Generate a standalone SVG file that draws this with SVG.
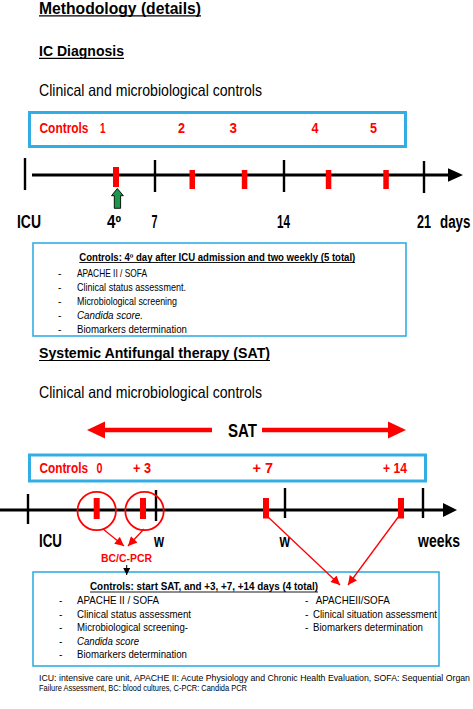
<svg xmlns="http://www.w3.org/2000/svg" width="473" height="709" viewBox="0 0 473 709">
<defs>
<style>
text{font-family:"Liberation Sans",Arial,sans-serif;fill:#000}
.b{font-weight:bold}
.red{fill:#ff0000}
.box{fill:none;stroke:#33aee4}
.ax{stroke:#000;stroke-width:3.2;fill:none}
.tk{stroke:#000;stroke-width:2.4}
.rt{fill:#ff0000}
.ul{stroke:#000;stroke-width:1.2}
.it{font-size:10.2px}
.rl{stroke:#ff0000;stroke-width:1.3;fill:none}
</style>
<marker id="ra" viewBox="0 0 10 10" refX="10" refY="5" markerWidth="10" markerHeight="9" markerUnits="userSpaceOnUse" orient="auto">
<path d="M0,0 L10,5 L0,10 z" fill="#ff0000"/>
</marker>
<marker id="ba" viewBox="0 0 10 10" refX="10" refY="5" markerWidth="7" markerHeight="7" markerUnits="userSpaceOnUse" orient="auto">
<path d="M0,0 L10,5 L0,10 z" fill="#000"/>
</marker>
</defs>
<rect width="473" height="709" fill="#fff"/>

<g id="headings">
<text class="b" x="39" y="14" font-size="16" textLength="162" lengthAdjust="spacingAndGlyphs">Methodology (details)</text>
<line class="ul" x1="39" y1="15.8" x2="201" y2="15.8"/>
<text class="b" x="39" y="56" font-size="15.5" textLength="85" lengthAdjust="spacingAndGlyphs">IC Diagnosis</text>
<line class="ul" x1="39" y1="58.3" x2="124" y2="58.3"/>
<text x="39" y="95.5" font-size="16.5" textLength="223" lengthAdjust="spacingAndGlyphs">Clinical and microbiological controls</text>
<text class="b" x="39" y="357.7" font-size="15.5" textLength="231" lengthAdjust="spacingAndGlyphs">Systemic Antifungal therapy (SAT)</text>
<line class="ul" x1="39" y1="360.5" x2="270" y2="360.5"/>
<text x="39" y="397.5" font-size="16.5" textLength="223" lengthAdjust="spacingAndGlyphs">Clinical and microbiological controls</text>
</g>

<g id="controls-box-1">
<rect class="box" x="29.5" y="112.5" width="376" height="34" stroke-width="3"/>
<text class="b red" x="39.5" y="133" font-size="15" textLength="49" lengthAdjust="spacingAndGlyphs">Controls</text>
<text class="b red" x="100" y="133" font-size="15" textLength="5.5" lengthAdjust="spacingAndGlyphs">1</text>
<text class="b red" x="178" y="133" font-size="15" textLength="7" lengthAdjust="spacingAndGlyphs">2</text>
<text class="b red" x="229.5" y="133" font-size="15" textLength="7.5" lengthAdjust="spacingAndGlyphs">3</text>
<text class="b red" x="311.5" y="133" font-size="15" textLength="7" lengthAdjust="spacingAndGlyphs">4</text>
<text class="b red" x="370" y="133" font-size="15" textLength="7" lengthAdjust="spacingAndGlyphs">5</text>
</g>

<g id="timeline-1">
<line class="ax" x1="32" y1="175" x2="450" y2="175"/>
<path d="M448,168.3 L463,175 L448,181.7 z" fill="#000"/>
<line class="tk" x1="25" y1="158" x2="25" y2="190"/>
<line class="tk" x1="155" y1="160" x2="155" y2="192"/>
<line class="tk" x1="284" y1="160" x2="284" y2="192"/>
<line class="tk" x1="424" y1="161" x2="424" y2="193"/>
<rect class="rt" x="113" y="167" width="6" height="20"/>
<rect class="rt" x="189.5" y="170" width="5.5" height="19"/>
<rect class="rt" x="241.8" y="170" width="5.5" height="19"/>
<rect class="rt" x="325.8" y="170" width="5.5" height="19"/>
<rect class="rt" x="383.3" y="170" width="5.5" height="19"/>
<path d="M117.3,188.5 L123.3,195.7 L120.6,195.7 L120.6,208.3 L114.3,208.3 L114.3,195.7 L111.5,195.7 z" fill="#16994a" stroke="#000" stroke-width="0.9"/>
<text class="b" x="17" y="228" font-size="18" textLength="24" lengthAdjust="spacingAndGlyphs">ICU</text>
<text class="b" x="107" y="228" font-size="18" textLength="14" lengthAdjust="spacingAndGlyphs">4º</text>
<text class="b" x="151.5" y="228" font-size="18" textLength="6" lengthAdjust="spacingAndGlyphs">7</text>
<text class="b" x="277" y="228" font-size="18" textLength="13" lengthAdjust="spacingAndGlyphs">14</text>
<text class="b" x="417" y="228" font-size="18" textLength="14" lengthAdjust="spacingAndGlyphs">21</text>
<text class="b" x="440" y="228" font-size="18" textLength="30.5" lengthAdjust="spacingAndGlyphs">days</text>
</g>

<g id="details-box-1">
<rect class="box" x="33" y="243" width="373" height="93" stroke-width="1.6"/>
<text class="b" x="79.3" y="260.7" font-size="10.2" textLength="276" lengthAdjust="spacingAndGlyphs">Controls: 4º day after ICU admission and two weekly (5 total)</text>
<line x1="79.3" y1="262.5" x2="355" y2="262.5" stroke="#000" stroke-width="0.9"/>
<text class="it" x="58" y="276.7">-</text>
<text class="it" x="77" y="276.7" textLength="70" lengthAdjust="spacingAndGlyphs">APACHE II / SOFA</text>
<text class="it" x="58" y="290.7">-</text>
<text class="it" x="77" y="290.7" textLength="109" lengthAdjust="spacingAndGlyphs">Clinical status assessment.</text>
<text class="it" x="58" y="305">-</text>
<text class="it" x="77" y="305" textLength="100" lengthAdjust="spacingAndGlyphs">Microbiological screening</text>
<text class="it" x="58" y="319">-</text>
<text class="it" x="77" y="319" font-style="italic" textLength="66" lengthAdjust="spacingAndGlyphs">Candida score.</text>
<text class="it" x="58" y="333.3">-</text>
<text class="it" x="77" y="333.3" textLength="110" lengthAdjust="spacingAndGlyphs">Biomarkers determination</text>
</g>

<g id="sat-arrow">
<line x1="103" y1="430" x2="212" y2="430" stroke="#ff0000" stroke-width="4.5"/>
<path d="M87,430 L105,421.5 L105,438.5 z" fill="#ff0000"/>
<line x1="262" y1="430" x2="390" y2="430" stroke="#ff0000" stroke-width="4.5"/>
<path d="M406,430 L388,421.5 L388,438.5 z" fill="#ff0000"/>
<text class="b" x="228" y="437" font-size="18" textLength="29" lengthAdjust="spacingAndGlyphs">SAT</text>
</g>

<g id="controls-box-2">
<rect class="box" x="29.5" y="455" width="396" height="26" stroke-width="3"/>
<text class="b red" x="39.5" y="473.3" font-size="14.5" textLength="48.5" lengthAdjust="spacingAndGlyphs">Controls</text>
<text class="b red" x="96.5" y="473.3" font-size="14.5" textLength="6" lengthAdjust="spacingAndGlyphs">0</text>
<text class="b red" x="133" y="473.3" font-size="14.5" textLength="18" lengthAdjust="spacingAndGlyphs">+ 3</text>
<text class="b red" x="252.5" y="473.3" font-size="14.5" textLength="20.5" lengthAdjust="spacingAndGlyphs">+ 7</text>
<text class="b red" x="383" y="473.3" font-size="14.5" textLength="24" lengthAdjust="spacingAndGlyphs">+ 14</text>
</g>

<g id="timeline-2">
<line class="ax" x1="0" y1="510" x2="445" y2="510"/>
<path d="M443,503 L457,510 L443,517 z" fill="#000"/>
<line class="tk" x1="28" y1="494" x2="28" y2="524"/>
<line class="tk" x1="156" y1="490" x2="156" y2="521"/>
<line class="tk" x1="285" y1="488" x2="285" y2="518"/>
<line class="tk" x1="423" y1="488" x2="423" y2="518"/>
<rect class="rt" x="93.7" y="498" width="6" height="21"/>
<rect class="rt" x="140" y="498" width="6" height="21"/>
<rect class="rt" x="263" y="498" width="6" height="20.5"/>
<rect class="rt" x="398" y="498" width="6" height="20.5"/>
<circle cx="96.7" cy="511" r="19.2" fill="none" stroke="#ff0000" stroke-width="1.8"/>
<circle cx="144.5" cy="511" r="19.2" fill="none" stroke="#ff0000" stroke-width="1.8"/>
<text class="b" x="39" y="547" font-size="19" textLength="23" lengthAdjust="spacingAndGlyphs">ICU</text>
<text class="b" x="154" y="547" font-size="19" textLength="10" lengthAdjust="spacingAndGlyphs">w</text>
<text class="b" x="279.5" y="547" font-size="19" textLength="10.5" lengthAdjust="spacingAndGlyphs">w</text>
<text class="b" x="418" y="547" font-size="19" textLength="42" lengthAdjust="spacingAndGlyphs">weeks</text>
</g>

<g id="bc-cpcr">
<text class="b red" x="101" y="561.7" font-size="11" textLength="51" lengthAdjust="spacingAndGlyphs">BC/C-PCR</text>
</g>

<g id="details-box-2">
<rect class="box" x="33" y="572" width="406" height="94" stroke-width="1.6"/>
<text class="b" x="90" y="590" font-size="10.6" textLength="228" lengthAdjust="spacingAndGlyphs">Controls:  start SAT, and +3, +7, +14 days (4 total)</text>
<line x1="90" y1="592" x2="318" y2="592" stroke="#000" stroke-width="0.9"/>
<text class="it" x="59" y="604">-</text>
<text class="it" x="77" y="604" textLength="82" lengthAdjust="spacingAndGlyphs">APACHE II / SOFA</text>
<text class="it" x="59" y="617.7">-</text>
<text class="it" x="77" y="617.7" textLength="114" lengthAdjust="spacingAndGlyphs">Clinical status assessment</text>
<text class="it" x="59" y="631">-</text>
<text class="it" x="77" y="631" textLength="111" lengthAdjust="spacingAndGlyphs">Microbiological screening-</text>
<text class="it" x="59" y="644.5">-</text>
<text class="it" x="77" y="644.5" font-style="italic" textLength="62" lengthAdjust="spacingAndGlyphs">Candida score</text>
<text class="it" x="59" y="657.7">-</text>
<text class="it" x="77" y="657.7" textLength="110" lengthAdjust="spacingAndGlyphs">Biomarkers determination</text>
<text class="it" x="305" y="604">-</text>
<text class="it" x="315.7" y="604" textLength="74" lengthAdjust="spacingAndGlyphs">APACHEII/SOFA</text>
<text class="it" x="305" y="617.7">-</text>
<text class="it" x="313" y="617.7" textLength="124" lengthAdjust="spacingAndGlyphs">Clinical situation assessment</text>
<text class="it" x="305" y="631">-</text>
<text class="it" x="313" y="631" textLength="110" lengthAdjust="spacingAndGlyphs">Biomarkers determination</text>
</g>

<g id="connectors">
<line class="rl" x1="103" y1="529" x2="124" y2="546" marker-end="url(#ra)"/>
<line class="rl" x1="144" y1="529" x2="128" y2="546" marker-end="url(#ra)"/>
<line x1="126.7" y1="565" x2="126.7" y2="575" stroke="#000" stroke-width="1" marker-end="url(#ba)"/>
<line class="rl" x1="267" y1="516" x2="340" y2="585" marker-end="url(#ra)"/>
<line class="rl" x1="399" y1="516" x2="348" y2="585" marker-end="url(#ra)"/>
</g>

<g id="footnote">
<text x="39" y="681" font-size="8.8" textLength="431" lengthAdjust="spacingAndGlyphs">ICU: intensive care unit, APACHE II: Acute Physiology and Chronic Health Evaluation, SOFA: Sequential Organ</text>
<text x="39" y="690.5" font-size="8.8" textLength="208" lengthAdjust="spacingAndGlyphs">Failure Assessment, BC: blood cultures, C-PCR: Candida PCR</text>
</g>
</svg>
